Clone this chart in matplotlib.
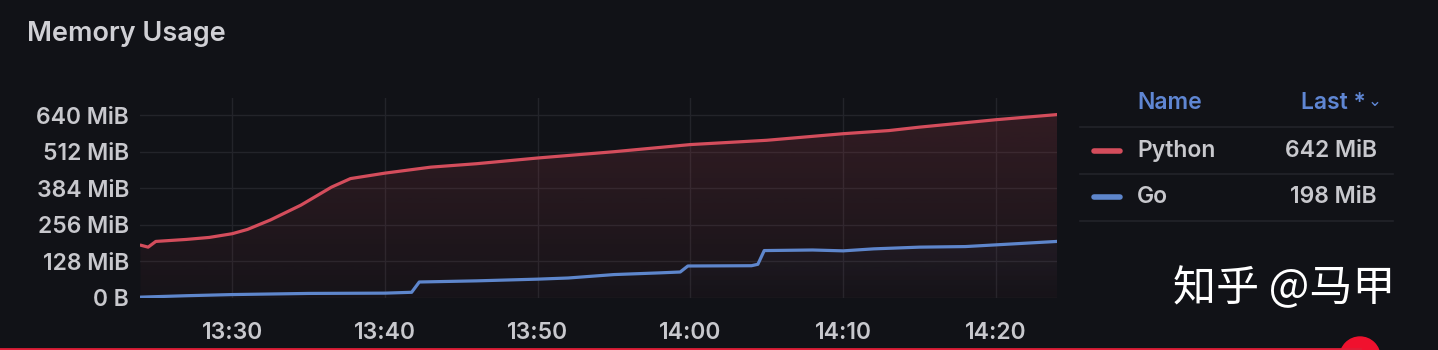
import pandas as pd
import numpy as np
import matplotlib
matplotlib.use("Agg")
import matplotlib.pyplot as plt
import matplotlib.dates as mdates
from matplotlib.lines import Line2D

# values (MiB)
python_times = ["13:24:00", "13:24:30", "13:25:00", "13:27:00", "13:28:30", "13:30:00",
                "13:31:00", "13:32:30", "13:34:30", "13:36:30", "13:37:45", "13:40:00",
                "13:43:00", "13:46:00", "13:50:00", "13:55:00", "14:00:00", "14:05:00",
                "14:10:00", "14:13:00", "14:15:00", "14:20:00", "14:24:00"]
python_mib = [185, 178, 198, 205, 212, 225, 240, 273, 325, 388, 418, 437,
              458, 470, 490, 512, 537, 552, 575, 586, 598, 624, 642]

go_times = ["13:24:00", "13:27:00", "13:30:00", "13:35:00", "13:40:00", "13:41:45",
            "13:42:15", "13:46:00", "13:50:00", "13:52:00", "13:55:00", "13:58:00",
            "13:59:20", "13:59:50", "14:04:00", "14:04:25", "14:04:50", "14:08:00",
            "14:10:00", "14:12:00", "14:15:00", "14:18:00", "14:20:00", "14:24:00"]
go_mib = [3, 8, 12, 16, 17, 20, 56, 60, 66, 70, 82, 88,
          91, 112, 113, 118, 166, 168, 165, 172, 178, 180, 186, 198]

series_names = ["Python", "Go"]
last_values = ["642 MiB", "198 MiB"]
ytick_vals = [0, 128, 256, 384, 512, 640]
ytick_labels = ["0 B", "128 MiB", "256 MiB", "384 MiB", "512 MiB", "640 MiB"]

W, H = 1438, 350
BG = "#111217"
RED = "#d44d5c"
BLUE = "#5e86cc"
TXT = "#c8c8cd"
HEAD = "#5f86d3"

plt.rcParams['font.family'] = ['Inter', 'DejaVu Sans']


def fx(px):
    return px / W


def fy(py):
    return 1 - py / H


def to_dt(times):
    return pd.to_datetime(["2024-01-01 " + t for t in times])


py_t = to_dt(python_times)
go_t = to_dt(go_times)
t_start = pd.Timestamp("2024-01-01 13:23:58")
t_end = pd.Timestamp("2024-01-01 14:24:00")

fig = plt.figure(figsize=(W / 100, H / 100), dpi=100, facecolor=BG)
ax = fig.add_axes([fx(140), fy(298), fx(1057) - fx(140), fy(98) - fy(298)])
ax.set_facecolor(BG)
ax.set_xlim(t_start, t_end)
ax.set_ylim(0, 700)

# gradient fill under each series (stronger near the line), clipped to the area
for t, v, col, a_top, a_bot in [(py_t, python_mib, RED, 0.17, 0.03),
                                (go_t, go_mib, BLUE, 0.05, 0.0)]:
    poly = ax.fill_between(t, v, 0, color="none", lw=0)
    rgb = matplotlib.colors.to_rgb(col)
    grad = np.zeros((256, 1, 4))
    grad[:, 0, :3] = rgb
    grad[:, 0, 3] = np.linspace(a_top, a_bot, 256)
    x0, x1 = ax.get_xlim()
    img = ax.imshow(grad, extent=[x0, x1, 0, max(v)], aspect="auto", origin="upper", zorder=1)
    img.set_clip_path(poly.get_paths()[0], transform=ax.transData)

ax.plot(py_t, python_mib, color=RED, lw=2.3, zorder=3, solid_capstyle="round")
ax.plot(go_t, go_mib, color=BLUE, lw=2.3, zorder=3, solid_capstyle="round")
ax.set_xlim(t_start, t_end)
ax.set_ylim(0, 700)

ax.set_yticks(ytick_vals)
ax.set_yticklabels(ytick_labels)
ax.xaxis.set_major_locator(mdates.MinuteLocator(byminute=[0, 10, 20, 30, 40, 50]))
ax.xaxis.set_major_formatter(mdates.DateFormatter("%H:%M"))
ax.grid(True, color="#23242a", lw=1.0)
ax.set_axisbelow(True)
ax.tick_params(length=0, colors=TXT, labelsize=16.5)
ax.tick_params(axis="y", pad=8)
ax.tick_params(axis="x", pad=17)
for lab in ax.get_xticklabels() + ax.get_yticklabels():
    lab.set_fontweight("semibold")
for s in ax.spines.values():
    s.set_visible(False)

# title
fig.text(fx(27), fy(34), "Memory Usage", color="#d0d0d5", fontsize=19.5,
         fontweight="semibold", ha="left", va="center")

# legend table
fig.text(fx(1137), fy(103), "Name", color=HEAD, fontsize=16.5, fontweight="semibold",
         ha="left", va="center")
fig.text(fx(1366), fy(103), "Last *", color=HEAD, fontsize=16.5, fontweight="semibold",
         ha="right", va="center")
fig.text(fx(1381), fy(101), "⌄", color=HEAD, fontsize=12, ha="right", va="center",
         family=['DejaVu Sans'])
for py_line in [127, 174, 221]:
    fig.add_artist(Line2D([fx(1080), fx(1393)], [fy(py_line), fy(py_line)],
                          color="#22232a", lw=1.2))
for i, (name, val, col) in enumerate(zip(series_names, last_values, [RED, BLUE])):
    yrow = 151 + i * 46
    fig.add_artist(Line2D([fx(1094), fx(1120)], [fy(yrow), fy(yrow)], color=col,
                          lw=4, solid_capstyle="round"))
    fig.text(fx(1137), fy(yrow), name, color=TXT, fontsize=16.5, fontweight="semibold",
             ha="left", va="center")
    fig.text(fx(1377), fy(yrow), val, color=TXT, fontsize=16.5, fontweight="semibold",
             ha="right", va="center")

# watermark
fig.text(fx(1284), fy(289), "知乎 @马甲", color="white", fontsize=31,
         ha="center", va="center", family=['Noto Sans CJK SC', 'DejaVu Sans'])

# video progress bar at the bottom
fig.add_artist(Line2D([0, fx(1360)], [fy(348.5), fy(348.5)], color="#e01e37", lw=2))
dot = plt.Circle((1360, H - 357), 20, color="#f0112e", transform=None)
fig.add_artist(dot)

fig.savefig("out.png", dpi=100, facecolor=BG)
